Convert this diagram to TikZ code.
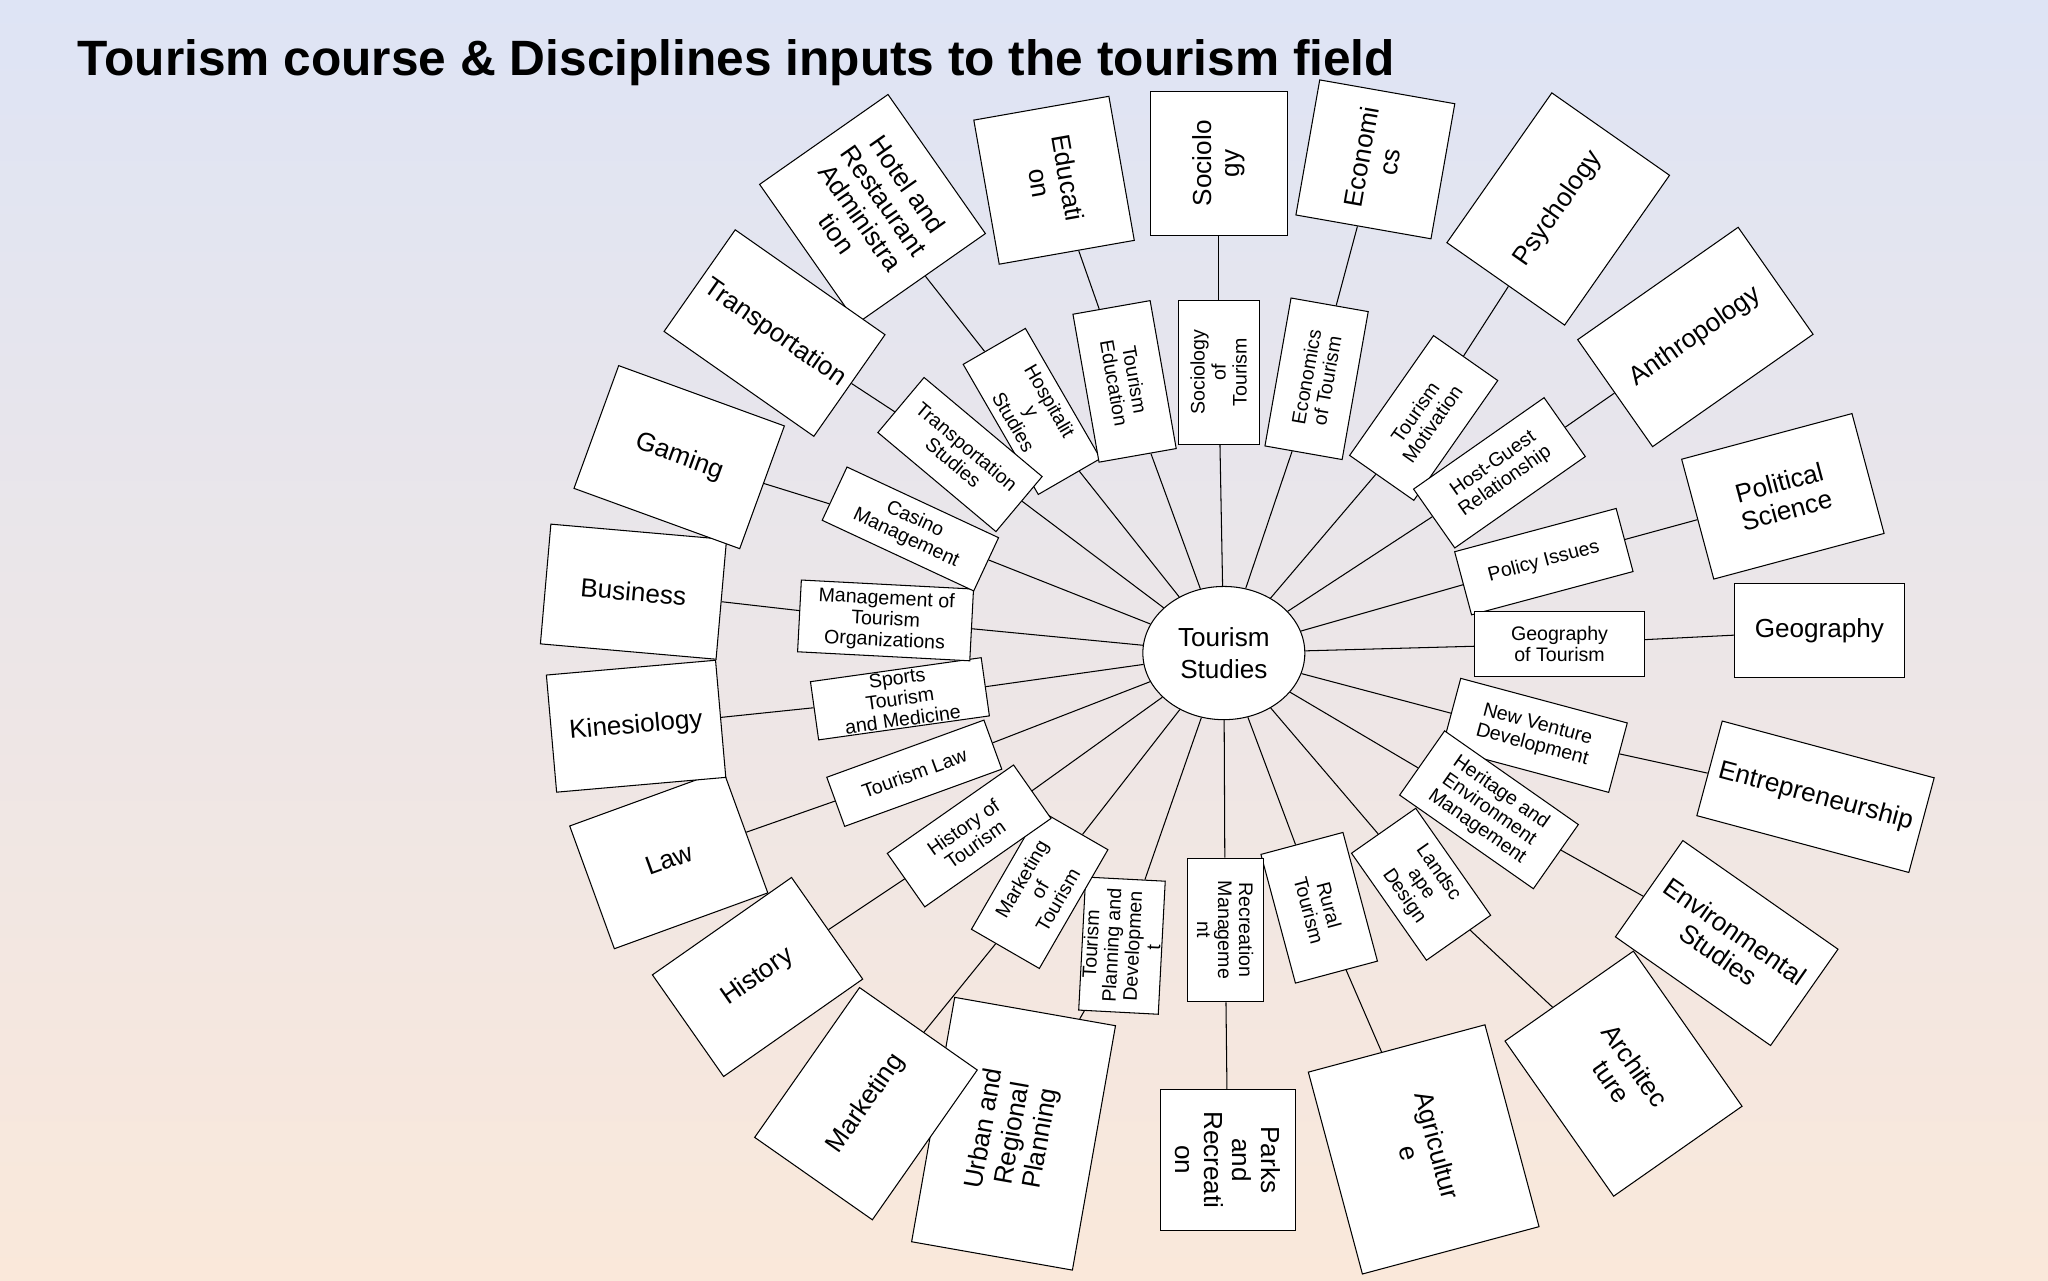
\documentclass[tikz,border=0pt]{standalone}
\usepackage{fontspec}
\setmainfont{Liberation Sans}
\usetikzlibrary{shapes.geometric}
\begin{document}
\begin{tikzpicture}[x=1pt,y=-1pt,
  box/.style={draw,thick,fill=white,align=center,inner sep=1pt},
  ob/.style={box,font=\fontsize{20}{22}\selectfont},
  ib/.style={box,font=\fontsize{15}{16}\selectfont},
  ln/.style={thick}]
\shade[top color={rgb,255:red,222;green,228;blue,245},middle color={rgb,255:red,196;green,210;blue,238},bottom color={rgb,255:red,250;green,232;blue,218}] (0,0) rectangle (1568,980);
\useasboundingbox (0,0) rectangle (1568,980);
\node[anchor=west,font=\bfseries\fontsize{38}{42}\selectfont] (t) at (56,48) {Tourism course \& Disciplines inputs to the tourism field};
\node[draw,thick,fill=white,ellipse,minimum width=124,minimum height=102,align=center,font=\fontsize{20}{24}\selectfont] (c) at (937,500) {Tourism\\Studies};
% outer
\foreach \n/\x/\y/\r/\w/\h/\t in {
 o1/668/160/-55/130/120/{Hotel and\\Restaurant\\Administra\\tion},
 o2/807/138/-80/112/105/{Educati\\on},
 o3/933/125/90/110/105/{Sociolo\\gy},
 o4/1053/122/80/105/105/{Economi\\cs},
 o5/1193/160/55/140/110/{Psychology},
 o6/1298/258/35/150/100/{Anthropology},
 o7/1365/380/15/135/95/{Political\\Science},
 o8/1393/483/0/130/72/{Geography},
 o9/1390/610/-15/168/75/{Entrepreneurship},
 o10/1322/722/-35/145/90/{Environmental\\Studies},
 o11/1243/822/-55/145/120/{Architec\\ture},
 o12/1090/880/-75/160/140/{Agricultur\\e},
 o13/940/888/-90/108/103/{Parks\\and\\Recreati\\on},
 o14/776/868/80/190/125/{Urban and\\Regional\\Planning},
 o15/663/845/55/140/110/{Marketing},
 o16/580/748/35/130/95/{History},
 o17/512/658/20/125/100/{Law},
 o18/487/556/5/130/90/{Kinesiology},
 o19/485/453/-5/135/92/{Business},
 o20/520/350/-20/135/100/{Gaming},
 o21/593/255/-35/140/95/{Transportation}}
 {\node[ob,rotate=\r,minimum width=\w,minimum height=\h] (\n) at (\x,\y) {\t};}
% inner
\foreach \n/\x/\y/\r/\w/\h/\t in {
 i1/790/315/-60/115/55/{Hospitalit\\y\\Studies},
 i2/861/292/-80/115/60/{Tourism\\Education},
 i3/933/285/90/110/62/{Sociology\\of\\Tourism},
 i4/1008/290/80/115/60/{Economics\\of Tourism},
 i5/1090/320/55/112/60/{Tourism\\Motivation},
 i6/1148/362/35/122/55/{Host-Guest\\Relationship},
 i7/1182/430/15/128/50/{Policy Issues},
 i8/1194/493/0/130/50/{Geography\\of Tourism},
 i9/1175/563/-15/132/55/{New Venture\\Development},
 i10/1140/620/-35/125/60/{Heritage and\\Environment\\Management},
 i11/1088/677/-55/100/60/{Landsc\\ape\\Design},
 i12/1010/695/-75/102/65/{Rural\\Tourism},
 i13/938/712/-90/110/58/{Recreation\\Manageme\\nt},
 i14/859/724/87/102/48/{Tourism\\Planning and\\Developmen\\t},
 i15/796/681/60/105/60/{Marketing\\of\\Tourism},
 i16/742/640/35/118/50/{History of\\Tourism},
 i17/700/592/20/128/40/{Tourism Law},
 i18/689/535/8/132/45/{Sports\\Tourism\\and Medicine},
 i19/678/475/-3/132/55/{Management of\\Tourism\\Organizations},
 i20/697/405/-25/128/45/{Casino\\Management},
 i21/735/348/-40/118/55/{Transportation\\Studies}}
 {\node[ib,rotate=\r,minimum width=\w,minimum height=\h] (\n) at (\x,\y) {\t};}
\foreach \k in {1,...,21}{\draw[ln] (c) -- (i\k); \draw[ln] (i\k) -- (o\k);}
\end{tikzpicture}
\end{document}
